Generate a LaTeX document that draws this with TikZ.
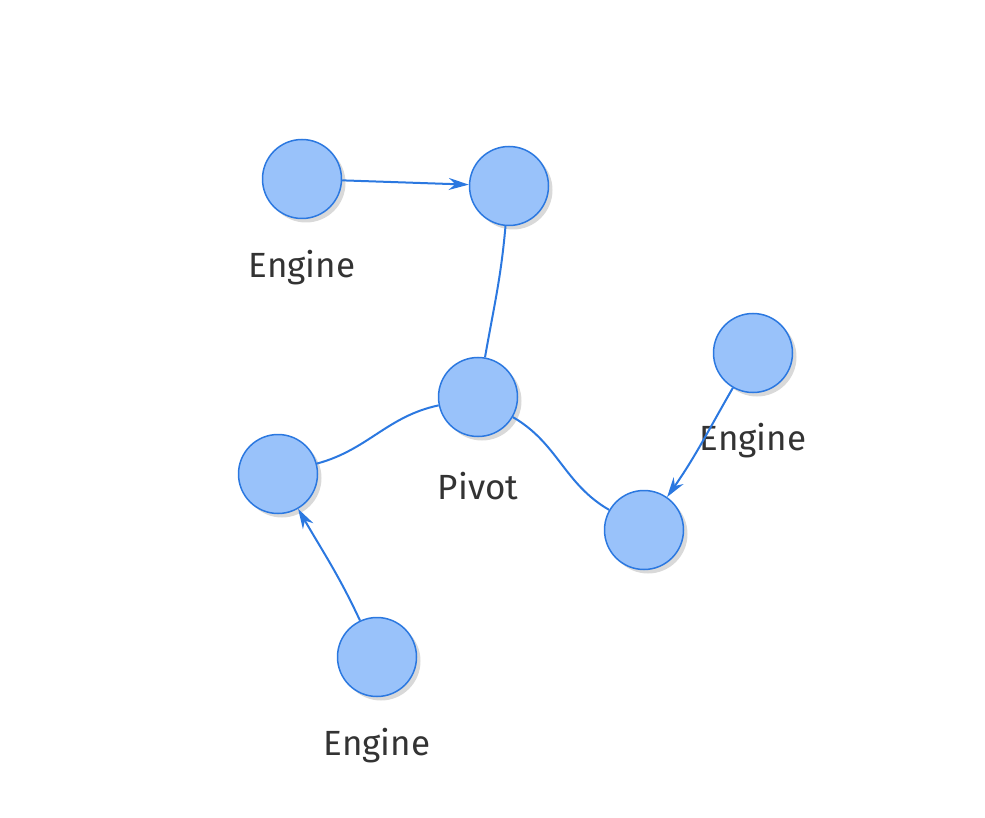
\documentclass[tikz,border=0pt]{standalone}
\usepackage{fontspec}
\setmainfont{Fira Sans}
\usetikzlibrary{arrows.meta,shadows}
\definecolor{fillc}{HTML}{99C2FA}
\definecolor{linec}{HTML}{2B78E0}
\definecolor{textc}{HTML}{333333}
\begin{document}
\begin{tikzpicture}[x=1pt,y=-1pt,
  dot/.style={circle,draw=linec,fill=fillc,line width=1.5pt,minimum size=79pt,inner sep=0pt,
    drop shadow={shadow xshift=4pt,shadow yshift=-4pt,opacity=0.3}},
  lbl/.style={text=textc,font=\fontsize{35}{40}\selectfont},
  conn/.style={draw=linec,line width=2pt},
  arr/.style={conn,-{Stealth[length=20pt,width=12pt]}}]
\useasboundingbox (0,0) rectangle (985,818);
\node[dot] (A) at (302,179) {};
\node[dot] (B) at (509,186) {};
\node[dot] (P) at (478,397) {};
\node[dot] (L) at (278,474) {};
\node[dot] (R) at (644,530) {};
\node[dot] (E) at (753,353) {};
\node[dot] (F) at (377,657) {};
\node[lbl] (la) at (302,268) {Engine};
\node[lbl] (lp) at (478,486) {Pivot};
\node[lbl] (le) at (753,441) {Engine};
\node[lbl] (lf) at (377,746) {Engine};
\draw[arr] (A) -- (B);
\draw[conn] (B) to[out=-95,in=80] (P);
\draw[conn] (P) to[out=-168,in=15] (L);
\draw[conn] (P) to[out=-30,in=150] (R);
\draw[arr] (E) to[out=-120,in=55] (R);
\draw[arr] (F) to[out=115,in=-60] (L);
\end{tikzpicture}
\end{document}
